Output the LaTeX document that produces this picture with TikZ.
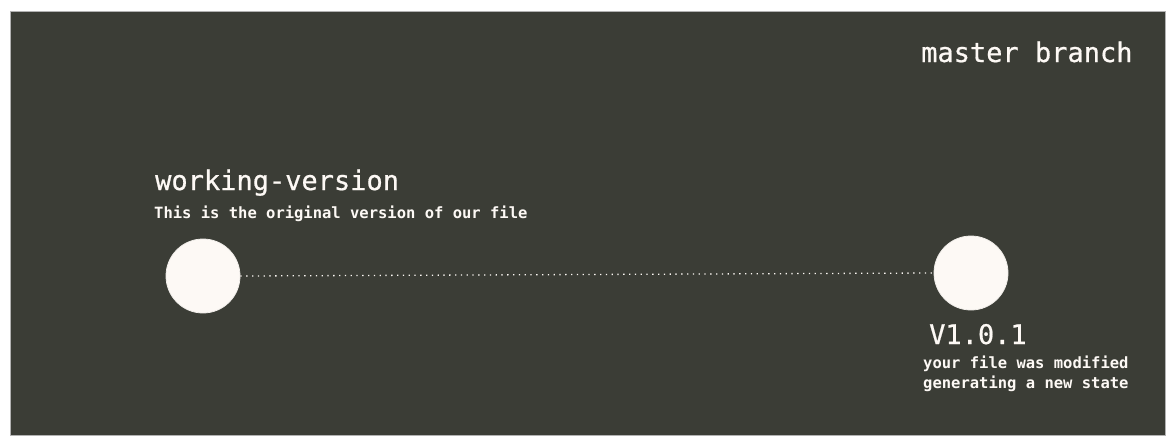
\documentclass[tikz,border=0pt]{standalone}
\usepackage{fontspec}
\setmonofont{DejaVu Sans Mono}
\newfontfamily\titlefont{DejaVu Sans Mono}[FakeBold=0.7]
\begin{document}
\begin{tikzpicture}[x=1pt,y=-1pt,
  title/.style={anchor=base west,inner sep=0pt,text=txt,font=\titlefont\fontsize{27}{30}\selectfont},
  desc/.style={anchor=base west,inner sep=0pt,text=txt,align=left,font=\ttfamily\bfseries\fontsize{15.5}{20}\selectfont},
  dot/.style={circle,fill=txt,draw=txt!90!gray,line width=0.8pt,minimum size=74pt,inner sep=0pt},
  link/.style={draw=txt,line width=1.3pt,dash pattern=on 1.3pt off 4.5pt}]
\definecolor{bg}{HTML}{3B3D36}
\definecolor{txt}{HTML}{FDF9F5}
\useasboundingbox (0,0) rectangle (1175,445);
\fill[white] (0,0) rectangle (1175,445);
\filldraw[fill=bg,draw=gray!60,line width=1pt] (10,11) rectangle (1165,435);
\node[title] (master) at (921,62) {master branch};
\node[title] (wv) at (155,190) {working-version};
\node[desc] (wvd) at (154,218) {This is the original version of our file};
\node[dot] (c1) at (203,276) {};
\node[dot] (c2) at (971,273) {};
\draw[link] (c1.east) -- (c2.west);
\node[title] (v) at (929,344) {V1.0.1};
\node[desc] (vd) at (923,388) {your file was modified\\generating a new state};
\end{tikzpicture}
\end{document}
